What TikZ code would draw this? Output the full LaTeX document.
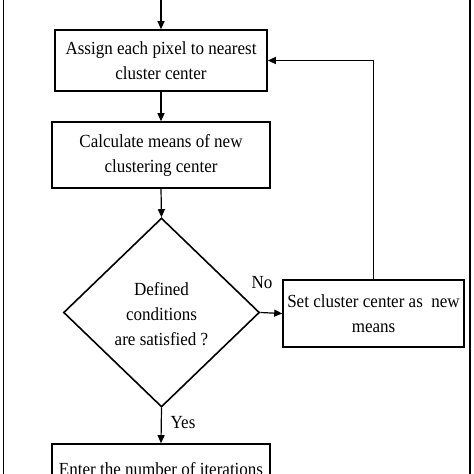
\documentclass[tikz,border=0pt]{standalone}
\usepackage{fontspec}
\setmainfont{Liberation Serif}[FakeStretch=0.92]
\usetikzlibrary{arrows.meta,shapes.geometric}
\begin{document}
\begin{tikzpicture}[x=1pt,y=-1pt,
  box/.style={draw,line width=1.6pt,align=center,inner sep=0pt,
    font=\fontsize{18.5}{25}\selectfont},
  dec/.style={draw,line width=1.6pt,diamond,align=center,inner sep=0pt,
    font=\fontsize{18.5}{25}\selectfont},
  conn/.style={line width=1.2pt,-{Triangle[length=8pt,width=7pt]}},
  lbl/.style={font=\fontsize{18.5}{22}\selectfont,inner sep=0pt}]
\useasboundingbox (0,0) rectangle (474,474);
\clip (0,0) rectangle (474,474);
\draw[line width=1.4pt] (3.5,-10) rectangle (470,490);
\node[box,minimum width=212pt,minimum height=61pt] (b1) at (161,60.5)
  {Assign each pixel to nearest\\cluster center};
\node[box,minimum width=218pt,minimum height=66pt] (b2) at (161,155)
  {Calculate means of new\\clustering center};
\node[dec,minimum width=196pt,minimum height=189pt] (d) at (161.5,312.5) {};
\node[align=center,font=\fontsize{18.5}{25}\selectfont,inner sep=0pt] (dt) at (161.5,314)
  {Defined\\conditions\\are satisfied ?};
\node[box,minimum width=181pt,minimum height=67pt] (b3) at (373.5,313.5)
  {Set cluster center as\ \ new\\means};
\node[box,minimum width=218pt,minimum height=50pt] (b4) at (161,469)
  {Enter the number of iterations};
\coordinate (top) at (161,-5);
\draw[conn] (top) -- (b1.north);
\draw[conn] (b1.south) -- (b2.north);
\draw[conn] (b2.south) -- (d.north);
\draw[conn] (d.east) -- (b3.west);
\draw[conn] (d.south) -- (b4.north);
\draw[conn] (b3.north) |- (b1.east);
\node[lbl,anchor=base] (no) at (262,288) {No};
\node[lbl,anchor=base] (yes) at (183,428) {Yes};
\end{tikzpicture}
\end{document}
